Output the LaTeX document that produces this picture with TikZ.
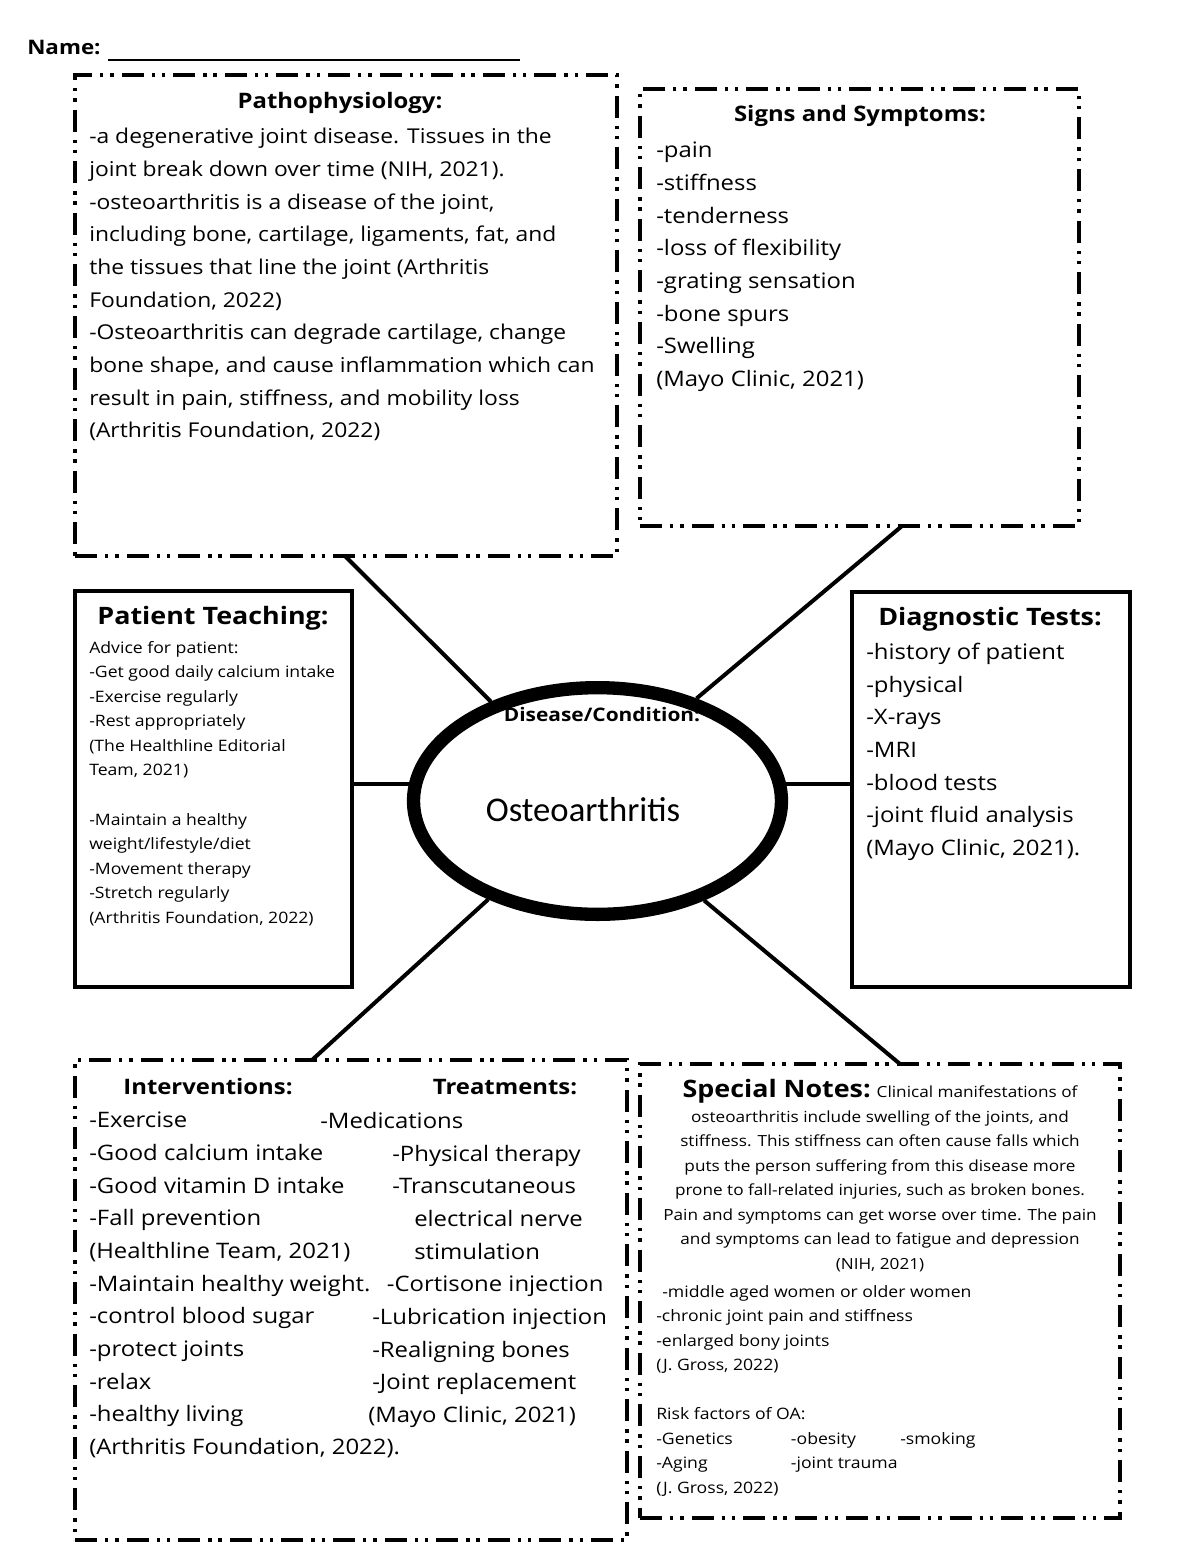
\documentclass[tikz,border=0pt]{standalone}
\usepackage{fontspec}
\setmainfont{Open Sans}[FakeStretch=1.12]
\newfontfamily\calfont{Carlito}
\usetikzlibrary{shapes.geometric,fit}
\begin{document}
\begin{tikzpicture}[x=0.75pt,y=-0.75pt,
  dashbox/.style={draw, line width=3pt, dash pattern=on 16.5pt off 6pt on 2.6pt off 5pt on 2.6pt off 6pt, inner sep=0pt},
  solidbox/.style={draw, line width=3pt, inner sep=0pt},
  conn/.style={line width=3pt},
  title/.style={font=\bfseries\fontsize{16}{20}\selectfont, inner sep=0pt},
  bigtitle/.style={font=\bfseries\fontsize{18}{22}\selectfont, inner sep=0pt},
  body/.style={font=\fontsize{16}{24.5}\selectfont, align=left, anchor=north west, inner sep=0pt},
  small/.style={font=\fontsize{11.8}{18.4}\selectfont, align=left, anchor=north west, inner sep=0pt}]

\path[use as bounding box, fill=white] (0,0) rectangle (1200,1553);

% name line
\node[font=\bfseries\fontsize{15}{18}\selectfont, anchor=west, inner sep=0pt] (name) at (27,47) {Name:};
\coordinate (nl1) at (108,60);
\coordinate (nl2) at (520,60);
\draw[line width=2.2pt] (nl1) -- (nl2);

% boxes
\coordinate (pa1) at (75,75);   \coordinate (pa2) at (617,556);
\node[dashbox, fit=(pa1)(pa2)] (patho) {};
\coordinate (sa1) at (640,89);  \coordinate (sa2) at (1079,526);
\node[dashbox, fit=(sa1)(sa2)] (signs) {};
\coordinate (ta1) at (75,591);  \coordinate (ta2) at (352,987);
\node[solidbox, fit=(ta1)(ta2)] (pt) {};
\coordinate (da1) at (852,592); \coordinate (da2) at (1130,987);
\node[solidbox, fit=(da1)(da2)] (dx) {};
\coordinate (ia1) at (75,1060); \coordinate (ia2) at (627,1540);
\node[dashbox, fit=(ia1)(ia2)] (interv) {};
\coordinate (na1) at (640,1064); \coordinate (na2) at (1120,1518);
\node[dashbox, fit=(na1)(na2)] (notes) {};

% central ellipse
\node[ellipse, draw, line width=10pt, minimum width=276pt, minimum height=170pt, inner sep=0pt] (dis) at (597.5,801) {};
\node[font=\bfseries\fontsize{14}{17}\selectfont, inner sep=0pt] (disT) at (602,715) {Disease/Condition:};
\node[font=\calfont\fontsize{26}{30}\selectfont, inner sep=0pt] (osteo) at (583,810) {Osteoarthritis};

% connectors
\coordinate (c1) at (345,556);
\draw[conn] (c1) -- (dis.137);
\coordinate (c2) at (902,526);
\draw[conn] (c2) -- (dis.46);
\draw[conn] (dis.175) -- (pt.east |- dis.175);
\draw[conn] (dis.5) -- (dx.west |- dis.5);
\coordinate (c5) at (312,1060);
\draw[conn] (dis.222) -- (c5);
\coordinate (c6) at (900,1064);
\draw[conn] (dis.317) -- (c6);

% Pathophysiology
\node[title] (pathoT) at (340,103) {Pathophysiology:};
\node[body, font=\fontsize{15.3}{24.5}\selectfont] (pathoB) at (89,128) {-a degenerative joint disease. Tissues in the\\
joint break down over time (NIH, 2021).\\
-osteoarthritis is a disease of the joint,\\
including bone, cartilage, ligaments, fat, and\\
the tissues that line the joint (Arthritis\\
Foundation, 2022)\\
-Osteoarthritis can degrade cartilage, change\\
bone shape, and cause inflammation which can\\
result in pain, stiffness, and mobility loss\\
(Arthritis Foundation, 2022)};

% Signs and Symptoms
\node[title] (signsT) at (860,116) {Signs and Symptoms:};
\node[body] (signsB) at (656,142) {-pain\\ -stiffness\\ -tenderness\\ -loss of flexibility\\ -grating sensation\\ -bone spurs\\ -Swelling\\ (Mayo Clinic, 2021)};

% Patient Teaching
\node[bigtitle] (ptT) at (213,618) {Patient Teaching:};
\node[small] (ptB) at (89,641) {Advice for patient:\\ -Get good daily calcium intake\\ -Exercise regularly\\ -Rest appropriately\\ (The Healthline Editorial\\ Team, 2021)\\[18.4pt] -Maintain a healthy\\ weight/lifestyle/diet\\ -Movement therapy\\ -Stretch regularly\\ (Arthritis Foundation, 2022)};

% Diagnostic Tests
\node[bigtitle] (dxT) at (990,619) {Diagnostic Tests:};
\node[body] (dxB) at (866,643) {-history of patient\\ -physical\\ -X-rays\\ -MRI\\ -blood tests\\ -joint fluid analysis\\ (Mayo Clinic, 2021).};

% Interventions / Treatments
\node[title] (intT) at (208,1087) {Interventions:};
\node[title] (trT) at (505,1087) {Treatments:};
\node[body] (intB) at (89,1112) {-Exercise\\ -Good calcium intake\\ -Good vitamin D intake\\ -Fall prevention\\ (Healthline Team, 2021)\\ -Maintain healthy weight.\\ -control blood sugar\\ -protect joints\\ -relax\\ -healthy living\\ (Arthritis Foundation, 2022).};
\node[body] (trB) at (320,1112) {-Medications\\ \hspace*{54pt}-Physical therapy\\ \hspace*{54pt}-Transcutaneous\\ \hspace*{70.5pt}electrical nerve\\ \hspace*{70.5pt}stimulation\\ \hspace*{50pt}-Cortisone injection\\ \hspace*{39pt}-Lubrication injection\\ \hspace*{39pt}-Realigning bones\\ \hspace*{39pt}-Joint replacement\\ \hspace*{36pt}(Mayo Clinic, 2021)};

% Special Notes
\node[font=\fontsize{11.5}{18.4}\selectfont, align=center, anchor=north, inner sep=0pt] (notesA) at (880,1079) {{\bfseries\fontsize{18}{22}\selectfont Special Notes:} Clinical manifestations of\\ osteoarthritis include swelling of the joints, and\\ stiffness. This stiffness can often cause falls which\\ puts the person suffering from this disease more\\ prone to fall-related injuries, such as broken bones.\\ Pain and symptoms can get worse over time. The pain\\ and symptoms can lead to fatigue and depression\\ (NIH, 2021)};
\node[small] (notesB) at (656,1285) {\hspace*{4.5pt}-middle aged women or older women\\ -chronic joint pain and stiffness\\ -enlarged bony joints\\ (J. Gross, 2022)\\[18.4pt] Risk factors of OA:\\ \makebox[101pt][l]{-Genetics}\makebox[82pt][l]{-obesity}-smoking\\ \makebox[101pt][l]{-Aging}-joint trauma\\ (J. Gross, 2022)};
\end{tikzpicture}
\end{document}
